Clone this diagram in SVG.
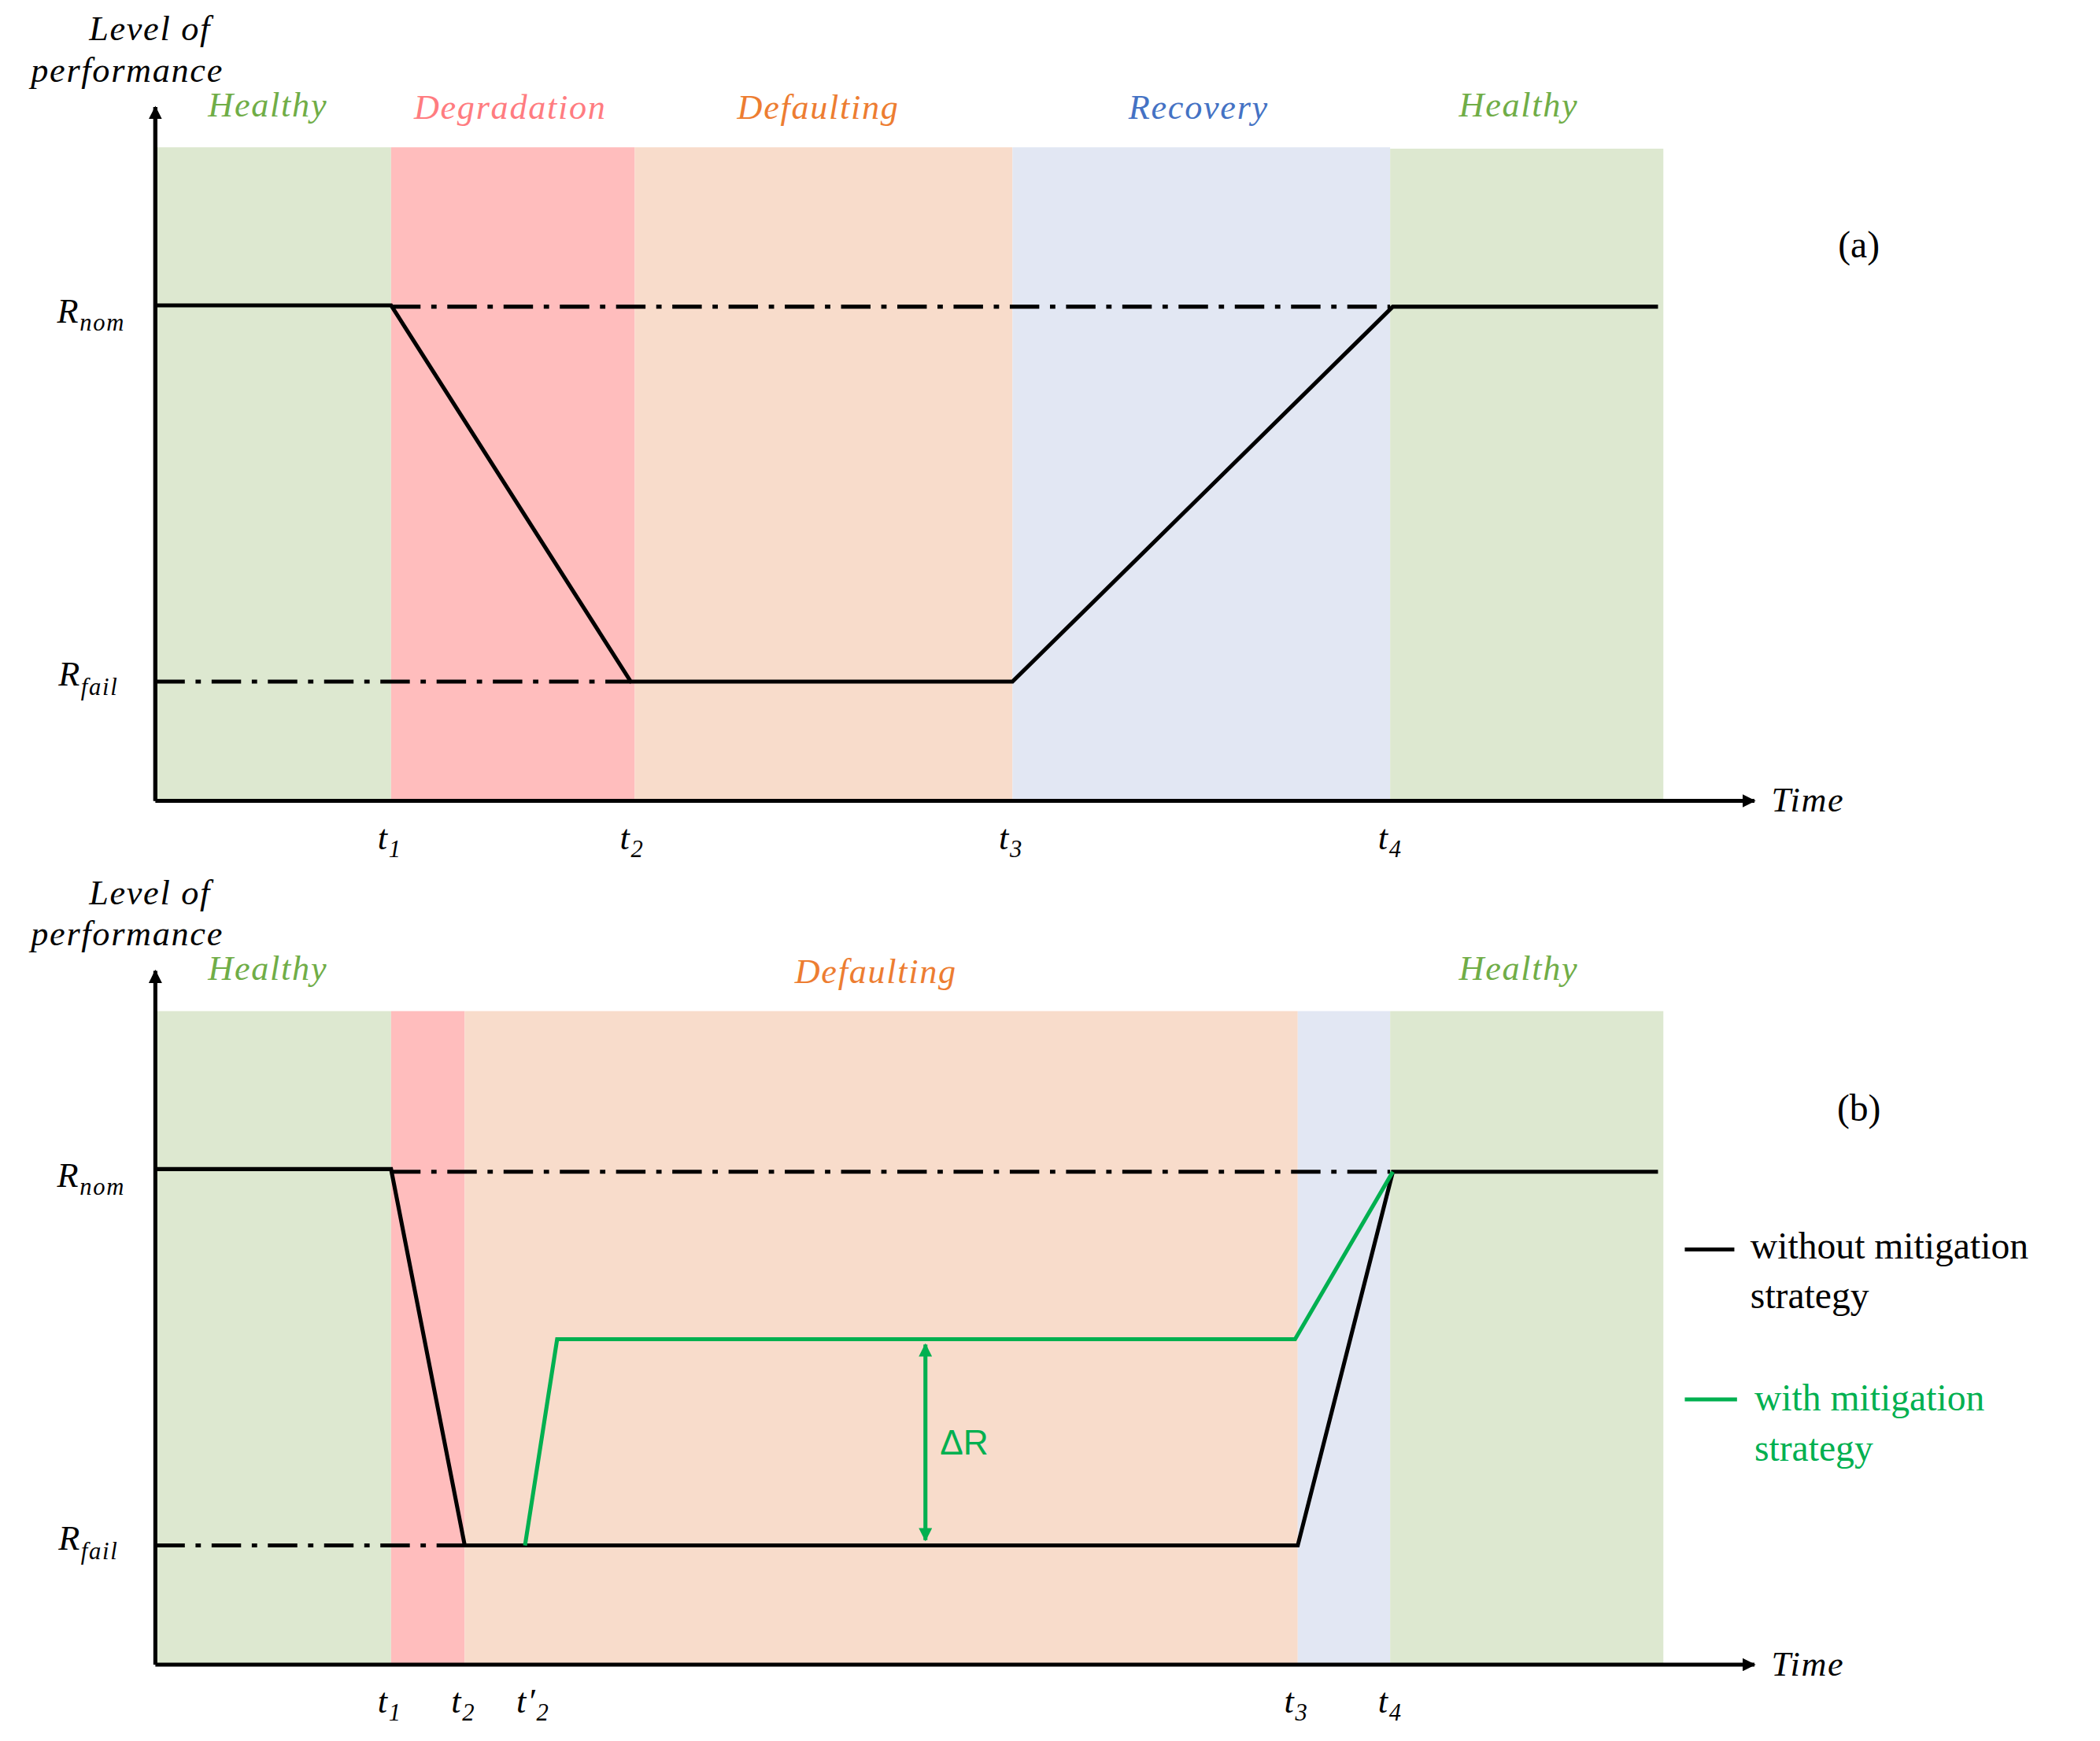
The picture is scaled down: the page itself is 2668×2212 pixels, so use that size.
<svg xmlns="http://www.w3.org/2000/svg" width="2668" height="2212" viewBox="0 0 2668 2212">
<style>
.m{font-family:"Liberation Serif",serif;font-style:italic;font-size:26px;letter-spacing:1px}
.s{font-family:"Liberation Serif",serif;font-size:28px}
.sub{font-size:18px}
.ln{fill:none;stroke:#000;stroke-width:3}
.dd{fill:none;stroke:#000;stroke-width:3;stroke-dasharray:22,8,4,8}
.g{fill:none;stroke:#00b050;stroke-width:3}
</style>
<defs>
<marker id="ah" markerWidth="10" markerHeight="10" refX="9" refY="5" orient="auto" markerUnits="userSpaceOnUse"><path d="M0,0L10,5L0,10z" fill="#000"/></marker>
<marker id="gh" markerWidth="10" markerHeight="10" refX="9" refY="5" orient="auto-start-reverse" markerUnits="userSpaceOnUse"><path d="M0,0L10,5L0,10z" fill="#00b050"/></marker>
</defs>
<rect width="2668" height="2212" fill="#fff"/>
<g transform="scale(1.7015)">
<g id="bands-a">
<rect x="116" y="110" width="176" height="488" fill="#dde8d0"/>
<rect x="292" y="110" width="182" height="488" fill="#ffbdbd"/>
<rect x="474" y="110" width="282" height="488" fill="#f8dccb"/>
<rect x="756" y="110" width="282" height="488" fill="#e2e7f3"/>
<rect x="1038" y="111" width="204" height="487" fill="#dde8d0"/>
</g>
<g id="bands-b">
<rect x="116" y="755" width="176" height="488" fill="#dde8d0"/>
<rect x="292" y="755" width="55" height="488" fill="#ffbdbd"/>
<rect x="347" y="755" width="622" height="488" fill="#f8dccb"/>
<rect x="969" y="755" width="69" height="488" fill="#e2e7f3"/>
<rect x="1038" y="755" width="204" height="488" fill="#dde8d0"/>
</g>
<g id="connectors">
<path class="ln" d="M116,598V80M116,598H1310" marker-end="url(#ah)"/>
<path class="ln" d="M116,598V80" marker-end="url(#ah)"/>
<path class="ln" d="M116,1243V725" marker-end="url(#ah)"/>
<path class="ln" d="M116,1243H1310" marker-end="url(#ah)"/>
<path class="dd" d="M292,229H1038M116,509H471"/>
<path class="ln" d="M116,228H292L471,509H756L1040,229H1238"/>
<path class="dd" d="M292,875H1038M116,1154H347"/>
<path class="ln" d="M116,873H292L347,1154H969L1040,875H1238"/>
<path class="g" d="M392,1154L416,1000H967L1040,875"/>
<path class="g" d="M691,1004V1150" marker-start="url(#gh)" marker-end="url(#gh)"/>
<path class="ln" d="M1258,933H1295"/>
<path class="g" d="M1258,1045H1297"/>
</g>
<g id="labels" text-anchor="middle">
<text class="m" x="112" y="30">Level of</text>
<text class="m" x="95" y="61">performance</text>
<text class="m" x="200" y="87" fill="#70ad47">Healthy</text>
<text class="m" x="381" y="89" fill="#ff7c80">Degradation</text>
<text class="m" x="611" y="89" fill="#ed7d31">Defaulting</text>
<text class="m" x="895" y="89" fill="#4472c4">Recovery</text>
<text class="m" x="1134" y="87" fill="#70ad47">Healthy</text>
<text class="s" x="1388" y="192">(a)</text>
<text class="m" x="68" y="241">R<tspan class="sub" dy="6">nom</tspan></text>
<text class="m" x="66" y="512">R<tspan class="sub" dy="7">fail</tspan></text>
<text class="m" x="1350" y="606">Time</text>
<text class="m" x="291" y="634">t<tspan class="sub" dy="6">1</tspan></text>
<text class="m" x="472" y="634">t<tspan class="sub" dy="6">2</tspan></text>
<text class="m" x="755" y="634">t<tspan class="sub" dy="6">3</tspan></text>
<text class="m" x="1038" y="634">t<tspan class="sub" dy="6">4</tspan></text>

<text class="m" x="112" y="675">Level of</text>
<text class="m" x="95" y="706">performance</text>
<text class="m" x="200" y="732" fill="#70ad47">Healthy</text>
<text class="m" x="654" y="734" fill="#ed7d31">Defaulting</text>
<text class="m" x="1134" y="732" fill="#70ad47">Healthy</text>
<text class="s" x="1388" y="837">(b)</text>
<text class="m" x="68" y="886">R<tspan class="sub" dy="6">nom</tspan></text>
<text class="m" x="66" y="1157">R<tspan class="sub" dy="7">fail</tspan></text>
<text class="m" x="1350" y="1251">Time</text>
<text class="m" x="291" y="1279">t<tspan class="sub" dy="6">1</tspan></text>
<text class="m" x="346" y="1279">t<tspan class="sub" dy="6">2</tspan></text>
<text class="m" x="398" y="1279">t′<tspan class="sub" dy="6">2</tspan></text>
<text class="m" x="968" y="1279">t<tspan class="sub" dy="6">3</tspan></text>
<text class="m" x="1038" y="1279">t<tspan class="sub" dy="6">4</tspan></text>
<text x="720" y="1086" font-family="Liberation Sans,sans-serif" font-size="26" fill="#00b050">ΔR</text>
</g>
<g id="legend" class="s">
<text x="1307" y="940">without mitigation</text>
<text x="1307" y="977">strategy</text>
<text x="1310" y="1053" fill="#00b050">with mitigation</text>
<text x="1310" y="1091" fill="#00b050">strategy</text>
</g>
</g>
</svg>
